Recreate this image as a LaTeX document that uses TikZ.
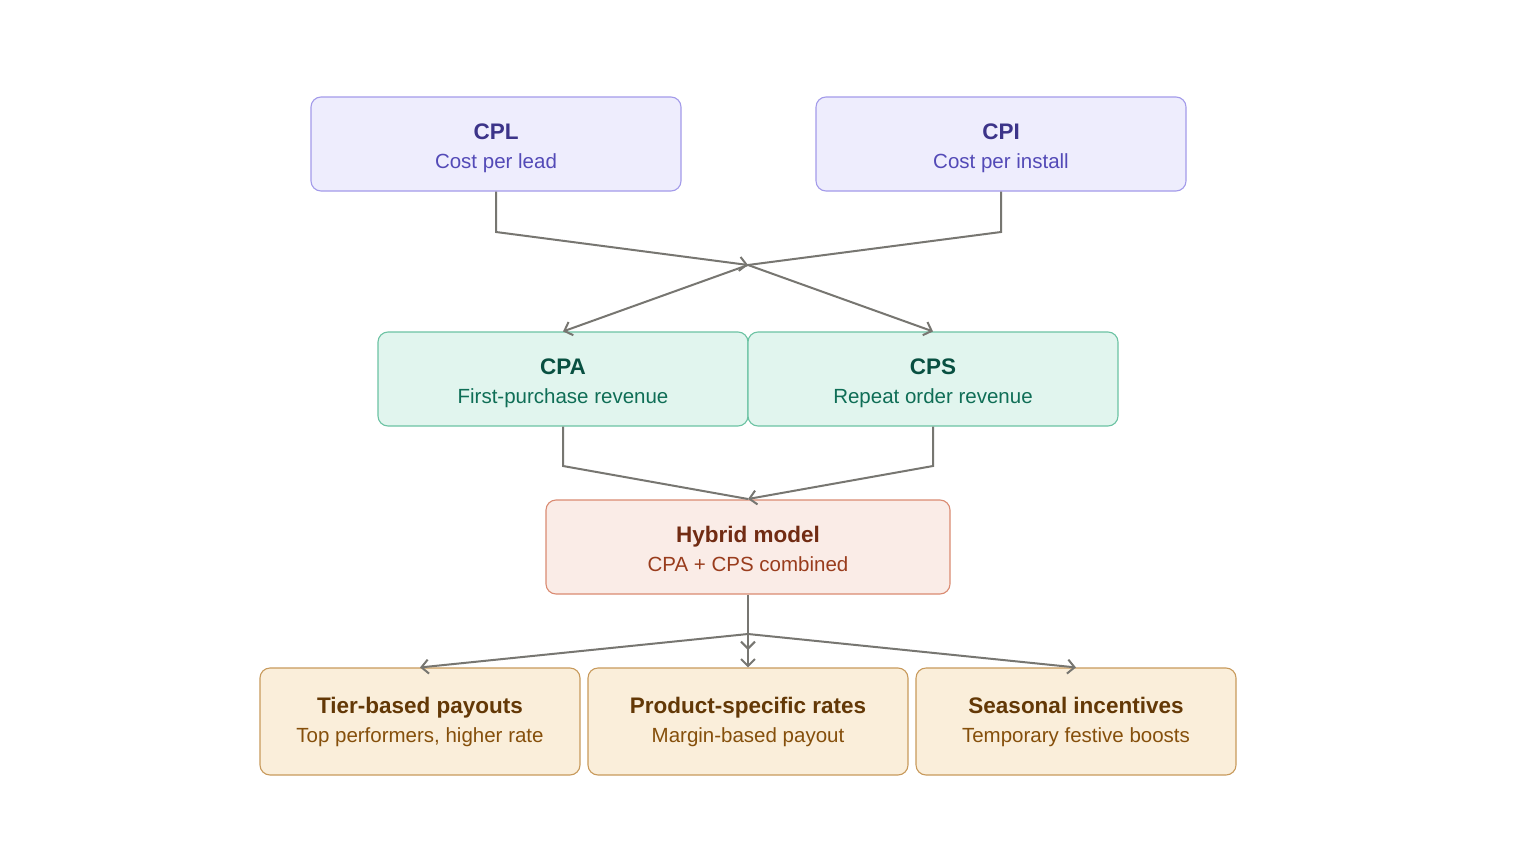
\documentclass[tikz,border=0pt]{standalone}
\usepackage{fontspec}
\setmainfont{Liberation Sans}
\usetikzlibrary{arrows.meta}
\definecolor{lavfill}{HTML}{EEEDFD}
\definecolor{lavdraw}{HTML}{A39BEA}
\definecolor{lavtitle}{HTML}{3C3489}
\definecolor{lavsub}{HTML}{534AB7}
\definecolor{grnfill}{HTML}{E1F5EE}
\definecolor{grndraw}{HTML}{6CC3A3}
\definecolor{grntitle}{HTML}{085041}
\definecolor{grnsub}{HTML}{0F6E56}
\definecolor{redfill}{HTML}{FAECE7}
\definecolor{reddraw}{HTML}{DA8B72}
\definecolor{redtitle}{HTML}{712B13}
\definecolor{redsub}{HTML}{993C1D}
\definecolor{ambfill}{HTML}{FAEEDA}
\definecolor{ambdraw}{HTML}{C89A5C}
\definecolor{ambtitle}{HTML}{633806}
\definecolor{ambsub}{HTML}{854F0B}
\definecolor{edge}{HTML}{777671}
\tikzset{
  box/.style={draw, rounded corners=10pt, line width=1.1pt, inner sep=0pt},
  wide/.style={minimum width=370pt, minimum height=94pt},
  hyb/.style={minimum width=404pt, minimum height=94pt},
  leaf/.style={minimum width=320pt, minimum height=107pt},
  lav/.style={box, wide, fill=lavfill, draw=lavdraw},
  grn/.style={box, wide, fill=grnfill, draw=grndraw},
  red/.style={box, hyb, fill=redfill, draw=reddraw},
  amb/.style={box, leaf, fill=ambfill, draw=ambdraw},
  ttl/.style={anchor=base, inner sep=0pt, font=\fontsize{22.5}{26}\selectfont\bfseries},
  sbt/.style={anchor=base, inner sep=0pt, font=\fontsize{20.5}{24}\selectfont},
  conn/.style={draw=edge, line width=2pt},
  arr/.style={conn, -{Straight Barb[length=7pt,width=14pt]}},
  darr/.style={conn, -{Straight Barb[length=7pt,width=14pt,sep=8pt]Straight Barb[length=7pt,width=14pt]}},
}
\begin{document}
\begin{tikzpicture}[x=1pt,y=-1pt]
\useasboundingbox[fill=white] (0,0) rectangle (1536,867);
% boxes
\node[lav] (cpl) at (496,144) {};
\node[lav] (cpi) at (1001,144) {};
\node[grn] (cpa) at (563,379) {};
\node[grn] (cps) at (933,379) {};
\node[red] (hyb) at (748,547) {};
\node[amb] (tier) at (420,721.5) {};
\node[amb] (prod) at (748,721.5) {};
\node[amb] (seas) at (1076,721.5) {};
% texts
\node[ttl, lavtitle] (cplt) at (496,139) {CPL};
\node[sbt, lavsub] (cpls) at (496,168) {Cost per lead};
\node[ttl, lavtitle] (cpit) at (1001,139) {CPI};
\node[sbt, lavsub] (cpis) at (1001,168) {Cost per install};
\node[ttl, grntitle] (cpat) at (563,374) {CPA};
\node[sbt, grnsub] (cpas) at (563,403) {First-purchase revenue};
\node[ttl, grntitle] (cpst) at (933,374) {CPS};
\node[sbt, grnsub] (cpss) at (933,403) {Repeat order revenue};
\node[ttl, redtitle] (hybt) at (748,542) {Hybrid model};
\node[sbt, redsub] (hybs) at (748,571) {CPA + CPS combined};
\node[ttl, ambtitle] (tiert) at (420,713) {Tier-based payouts};
\node[sbt, ambsub] (tiers) at (420,742) {Top performers, higher rate};
\node[ttl, ambtitle] (prodt) at (748,713) {Product-specific rates};
\node[sbt, ambsub] (prods) at (748,742) {Margin-based payout};
\node[ttl, ambtitle] (seast) at (1076,713) {Seasonal incentives};
\node[sbt, ambsub] (seass) at (1076,742) {Temporary festive boosts};
% junctions
\coordinate (cplb) at (496,232);
\coordinate (cpib) at (1001,232);
\coordinate (jx) at (748,265);
\coordinate (cpab) at (563,466);
\coordinate (cpsb) at (933,466);
\coordinate (jh) at (748,499);
\coordinate (jb) at (748,634);
% connectors
\draw[conn] (cpi.south) -- (cpib) -- (jx);
\draw[arr] (cpl.south) -- (cplb) -- (jx);
\draw[arr] (jx) -- (cpa.north);
\draw[arr] (jx) -- (cps.north);
\draw[conn] (cpa.south) -- (cpab) -- (jh);
\draw[arr] (cps.south) -- (cpsb) -- (jh);
\draw[conn] (hyb.south) -- (jb);
\draw[arr] (jb) -- (tier.north);
\draw[darr] (jb) -- (prod.north);
\draw[arr] (jb) -- (seas.north);
\end{tikzpicture}
\end{document}
